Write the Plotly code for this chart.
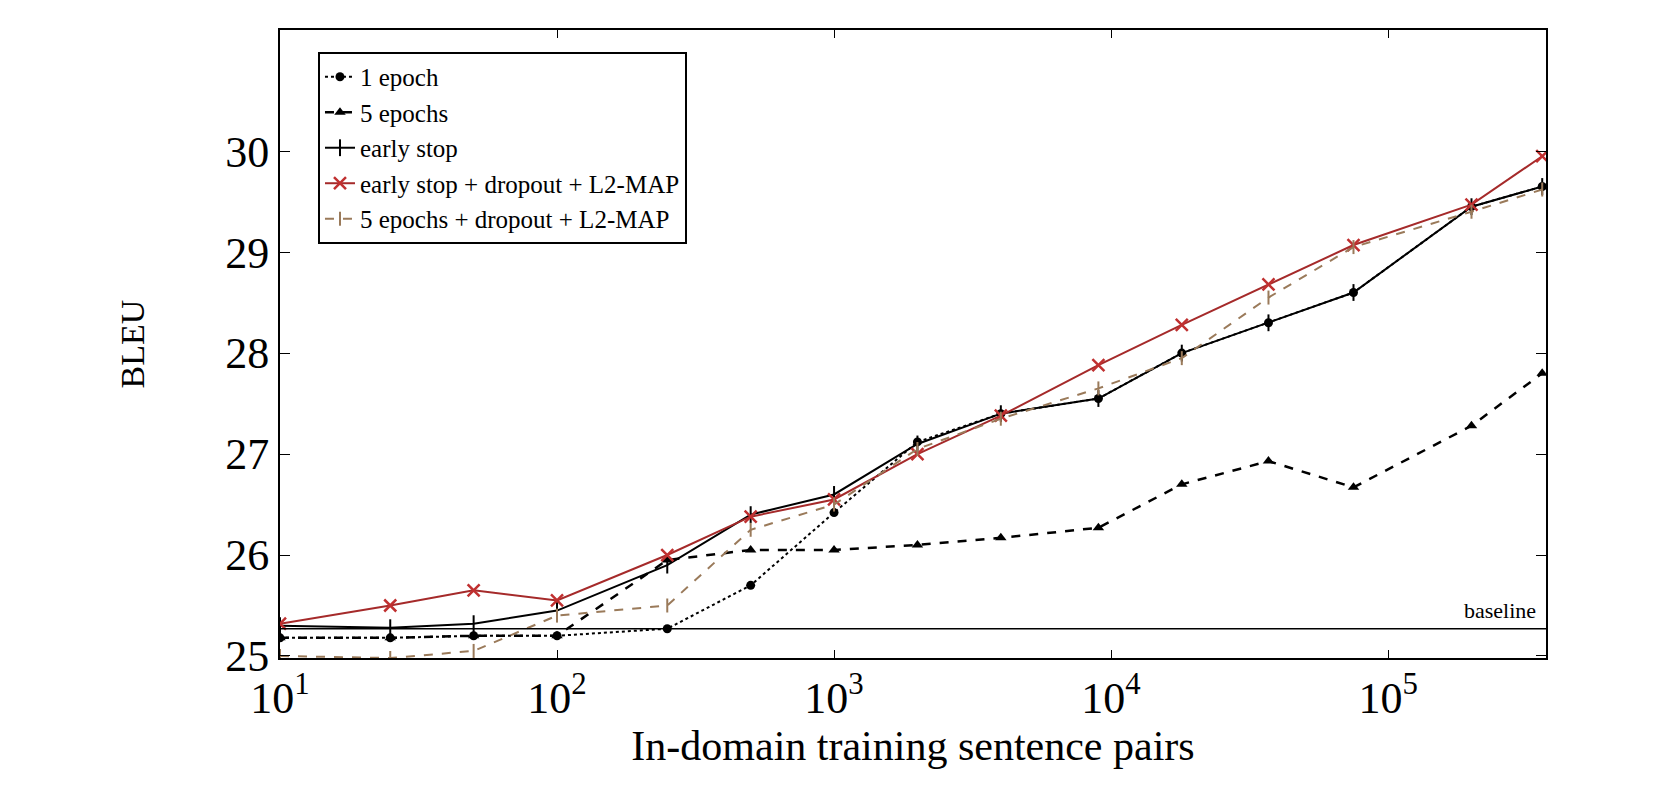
import plotly.graph_objects as go

# training sentence pairs (x) and BLEU scores per setting
pairs = [10, 25, 50, 100, 250, 500, 1000, 2000, 4000, 9000, 18000, 37000, 75000, 200000, 360000]
one_epoch = [25.18, 25.18, 25.2, 25.2, 25.27, 25.7, 26.42, 27.12, 27.4, 27.55, 28.0, 28.3, 28.6, 29.45, 29.65]
five_epochs = [25.18, 25.18, 25.2, 25.2, 25.95, 26.05, 26.05, 26.1, 26.17, 26.27, 26.7, 26.93, 26.67, 27.28, 27.8]
early_stop = [25.3, 25.28, 25.32, 25.45, 25.9, 26.4, 26.6, 27.1, 27.4, 27.55, 28.0, 28.3, 28.6, 29.45, 29.65]
early_reg = [25.32, 25.5, 25.65, 25.55, 26.0, 26.38, 26.55, 27.0, 27.38, 27.88, 28.28, 28.68, 29.07, 29.47, 29.95]
five_reg = [25.0, 24.98, 25.05, 25.4, 25.5, 26.25, 26.5, 27.05, 27.35, 27.65, 27.95, 28.55, 29.05, 29.4, 29.62]
baseline = 25.27

serif = "Liberation Serif"
fig = go.Figure()
fig.add_trace(go.Scatter(x=pairs, y=one_epoch, name="1 epoch", mode="lines+markers",
                         line=dict(color="black", width=2, dash="dot"),
                         marker=dict(symbol="circle", size=9, color="black")))
fig.add_trace(go.Scatter(x=pairs, y=five_epochs, name="5 epochs", mode="lines+markers",
                         line=dict(color="black", width=2.5, dash="dash"),
                         marker=dict(symbol="triangle-up", size=10, color="black")))
fig.add_trace(go.Scatter(x=pairs, y=early_stop, name="early stop", mode="lines+markers",
                         line=dict(color="black", width=2),
                         marker=dict(symbol="line-ns-open", size=12, color="black", line=dict(width=2))))
fig.add_trace(go.Scatter(x=pairs, y=early_reg, name="early stop + dropout + L2-MAP", mode="lines+markers",
                         line=dict(color="#a52a2a", width=2),
                         marker=dict(symbol="x-thin-open", size=12, color="#c03030", line=dict(width=2.5))))
fig.add_trace(go.Scatter(x=pairs, y=five_reg, name="5 epochs + dropout + L2-MAP", mode="lines+markers",
                         line=dict(color="#9a7a5a", width=2, dash="dash"),
                         marker=dict(symbol="line-ns-open", size=10, color="#9a7a5a", line=dict(width=2))))
fig.add_hline(y=baseline, line=dict(color="black", width=1.5))
fig.add_annotation(x=1, xref="paper", y=baseline, text="baseline", showarrow=False,
                   xanchor="right", yanchor="bottom", yshift=4, xshift=-8,
                   font=dict(family=serif, size=22, color="black"))

fig.update_layout(
    width=1653, height=800, plot_bgcolor="white", paper_bgcolor="white",
    margin=dict(l=272, r=115, t=22, b=150),
    font=dict(family=serif, color="black"),
    legend=dict(x=0.03, y=0.965, xanchor="left", yanchor="top", bgcolor="white",
                bordercolor="black", borderwidth=2, font=dict(family=serif, size=25),
                tracegroupgap=0),
    xaxis=dict(type="log", range=[1, 5.57], showgrid=False, showline=True, linecolor="black",
               linewidth=2, mirror="ticks", ticks="inside", ticklen=8, tickcolor="black",
               tickvals=[10, 100, 1000, 10000, 100000],
               ticktext=["10<sup>1</sup>", "10<sup>2</sup>", "10<sup>3</sup>", "10<sup>4</sup>", "10<sup>5</sup>"],
               tickfont=dict(size=44), title=dict(text="In-domain training sentence pairs",
                                                  font=dict(size=42), standoff=5)),
    yaxis=dict(range=[24.98, 31.2], showgrid=False, showline=True, linecolor="black", linewidth=2,
               mirror="ticks", ticks="inside", ticklen=10, tickcolor="black",
               tickvals=[25, 26, 27, 28, 29, 30], tickfont=dict(size=44),
               title=dict(text="BLEU", font=dict(size=34), standoff=70)),
)
fig.write_html("out.html")
